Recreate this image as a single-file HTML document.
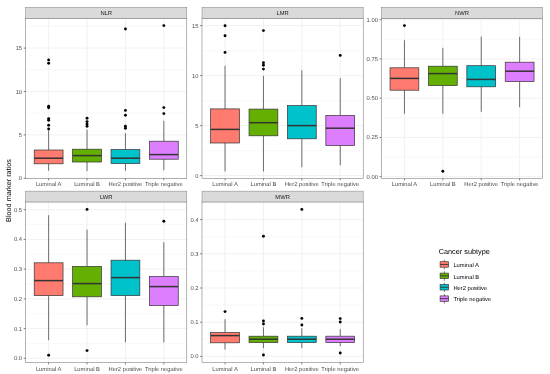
<!DOCTYPE html>
<html><head><meta charset="utf-8"><title>Blood marker ratios by cancer subtype</title>
<style>html,body{margin:0;padding:0;background:#fff}svg{display:block}</style></head>
<body>
<svg width="550" height="374" viewBox="0 0 550 374" font-family="Liberation Sans, sans-serif" text-rendering="geometricPrecision">
<rect width="550" height="374" fill="#fff"/>
<g>
<rect x="25.6" y="18.3" width="161.2" height="160.1" fill="#fff"/>
<line x1="25.6" x2="186.8" y1="156.60" y2="156.60" stroke="#ebebeb" stroke-width="0.35"/>
<line x1="25.6" x2="186.8" y1="113.20" y2="113.20" stroke="#ebebeb" stroke-width="0.35"/>
<line x1="25.6" x2="186.8" y1="69.80" y2="69.80" stroke="#ebebeb" stroke-width="0.35"/>
<line x1="25.6" x2="186.8" y1="26.40" y2="26.40" stroke="#ebebeb" stroke-width="0.35"/>
<line x1="25.6" x2="186.8" y1="178.30" y2="178.30" stroke="#ebebeb" stroke-width="0.7"/>
<line x1="25.6" x2="186.8" y1="134.90" y2="134.90" stroke="#ebebeb" stroke-width="0.7"/>
<line x1="25.6" x2="186.8" y1="91.50" y2="91.50" stroke="#ebebeb" stroke-width="0.7"/>
<line x1="25.6" x2="186.8" y1="48.10" y2="48.10" stroke="#ebebeb" stroke-width="0.7"/>
<line x1="48.64" x2="48.64" y1="18.3" y2="178.4" stroke="#ebebeb" stroke-width="0.7"/>
<line x1="87.04" x2="87.04" y1="18.3" y2="178.4" stroke="#ebebeb" stroke-width="0.7"/>
<line x1="125.44" x2="125.44" y1="18.3" y2="178.4" stroke="#ebebeb" stroke-width="0.7"/>
<line x1="163.84" x2="163.84" y1="18.3" y2="178.4" stroke="#ebebeb" stroke-width="0.7"/>
<circle cx="48.64" cy="59.9" r="1.45" fill="#000"/>
<circle cx="48.64" cy="63.2" r="1.45" fill="#000"/>
<circle cx="48.64" cy="106.2" r="1.45" fill="#000"/>
<circle cx="48.64" cy="107.8" r="1.45" fill="#000"/>
<circle cx="48.64" cy="118.6" r="1.45" fill="#000"/>
<circle cx="48.64" cy="120.2" r="1.45" fill="#000"/>
<circle cx="48.64" cy="125.2" r="1.45" fill="#000"/>
<circle cx="48.64" cy="128.9" r="1.45" fill="#000"/>
<line x1="48.64" x2="48.64" y1="130.1" y2="150.0" stroke="#333333" stroke-width="0.7"/>
<line x1="48.64" x2="48.64" y1="163.79999999999998" y2="170.79999999999998" stroke="#333333" stroke-width="0.7"/>
<rect x="34.24" y="150.0" width="28.8" height="13.80" fill="#FF7B6F" stroke="#333333" stroke-width="0.7"/>
<line x1="34.24" x2="63.04" y1="158.2" y2="158.2" stroke="#333333" stroke-width="1.5"/>
<circle cx="87.04" cy="118.3" r="1.45" fill="#000"/>
<circle cx="87.04" cy="121.6" r="1.45" fill="#000"/>
<circle cx="87.04" cy="123.9" r="1.45" fill="#000"/>
<circle cx="87.04" cy="126.3" r="1.45" fill="#000"/>
<line x1="87.04" x2="87.04" y1="129.6" y2="149.2" stroke="#333333" stroke-width="0.7"/>
<line x1="87.04" x2="87.04" y1="162.0" y2="171.2" stroke="#333333" stroke-width="0.7"/>
<rect x="72.64" y="149.2" width="28.8" height="12.80" fill="#64B002" stroke="#333333" stroke-width="0.7"/>
<line x1="72.64" x2="101.44" y1="155.6" y2="155.6" stroke="#333333" stroke-width="1.5"/>
<circle cx="125.44" cy="29" r="1.45" fill="#000"/>
<circle cx="125.44" cy="110.4" r="1.45" fill="#000"/>
<circle cx="125.44" cy="115.2" r="1.45" fill="#000"/>
<circle cx="125.44" cy="126.2" r="1.45" fill="#000"/>
<circle cx="125.44" cy="128.2" r="1.45" fill="#000"/>
<line x1="125.44" x2="125.44" y1="133.2" y2="149.6" stroke="#333333" stroke-width="0.7"/>
<line x1="125.44" x2="125.44" y1="163.6" y2="170.79999999999998" stroke="#333333" stroke-width="0.7"/>
<rect x="111.04" y="149.6" width="28.8" height="14.00" fill="#00C2CB" stroke="#333333" stroke-width="0.7"/>
<line x1="111.04" x2="139.84" y1="158.2" y2="158.2" stroke="#333333" stroke-width="1.5"/>
<circle cx="163.84" cy="25.6" r="1.45" fill="#000"/>
<circle cx="163.84" cy="107.6" r="1.45" fill="#000"/>
<circle cx="163.84" cy="113.6" r="1.45" fill="#000"/>
<line x1="163.84" x2="163.84" y1="120.8" y2="141.2" stroke="#333333" stroke-width="0.7"/>
<line x1="163.84" x2="163.84" y1="159.2" y2="170.2" stroke="#333333" stroke-width="0.7"/>
<rect x="149.44" y="141.2" width="28.8" height="18.00" fill="#DD7EFF" stroke="#333333" stroke-width="0.7"/>
<line x1="149.44" x2="178.24" y1="154.6" y2="154.6" stroke="#333333" stroke-width="1.5"/>
<rect x="25.6" y="18.3" width="161.2" height="160.1" fill="none" stroke="#686868" stroke-width="0.5"/>
<rect x="25.6" y="7.3" width="161.2" height="11.0" fill="#dadada" stroke="#808080" stroke-width="0.5"/>
<text x="106.2" y="14.9" font-size="5.8" fill="#1a1a1a" text-anchor="middle">NLR</text>
<line x1="23.7" x2="25.4" y1="178.30" y2="178.30" stroke="#333333" stroke-width="0.65"/>
<text x="22.1" y="180.35" font-size="5.8" fill="#4d4d4d" text-anchor="end">0</text>
<line x1="23.7" x2="25.4" y1="134.90" y2="134.90" stroke="#333333" stroke-width="0.65"/>
<text x="22.1" y="136.95" font-size="5.8" fill="#4d4d4d" text-anchor="end">5</text>
<line x1="23.7" x2="25.4" y1="91.50" y2="91.50" stroke="#333333" stroke-width="0.65"/>
<text x="22.1" y="93.55" font-size="5.8" fill="#4d4d4d" text-anchor="end">10</text>
<line x1="23.7" x2="25.4" y1="48.10" y2="48.10" stroke="#333333" stroke-width="0.65"/>
<text x="22.1" y="50.15" font-size="5.8" fill="#4d4d4d" text-anchor="end">15</text>
<line x1="48.64" x2="48.64" y1="178.6" y2="180.3" stroke="#333333" stroke-width="0.65"/>
<text x="48.64" y="186.4" font-size="5.8" fill="#4d4d4d" text-anchor="middle">Luminal A</text>
<line x1="87.04" x2="87.04" y1="178.6" y2="180.3" stroke="#333333" stroke-width="0.65"/>
<text x="87.04" y="186.4" font-size="5.8" fill="#4d4d4d" text-anchor="middle">Luminal B</text>
<line x1="125.44" x2="125.44" y1="178.6" y2="180.3" stroke="#333333" stroke-width="0.65"/>
<text x="125.44" y="186.4" font-size="5.8" fill="#4d4d4d" text-anchor="middle">Her2 positive</text>
<line x1="163.84" x2="163.84" y1="178.6" y2="180.3" stroke="#333333" stroke-width="0.65"/>
<text x="163.84" y="186.4" font-size="5.8" fill="#4d4d4d" text-anchor="middle">Triple negative</text>
</g>
<g>
<rect x="202.0" y="18.3" width="161.2" height="160.1" fill="#fff"/>
<line x1="202.0" x2="363.2" y1="150.60" y2="150.60" stroke="#ebebeb" stroke-width="0.35"/>
<line x1="202.0" x2="363.2" y1="100.60" y2="100.60" stroke="#ebebeb" stroke-width="0.35"/>
<line x1="202.0" x2="363.2" y1="50.60" y2="50.60" stroke="#ebebeb" stroke-width="0.35"/>
<line x1="202.0" x2="363.2" y1="175.60" y2="175.60" stroke="#ebebeb" stroke-width="0.7"/>
<line x1="202.0" x2="363.2" y1="125.60" y2="125.60" stroke="#ebebeb" stroke-width="0.7"/>
<line x1="202.0" x2="363.2" y1="75.60" y2="75.60" stroke="#ebebeb" stroke-width="0.7"/>
<line x1="202.0" x2="363.2" y1="25.60" y2="25.60" stroke="#ebebeb" stroke-width="0.7"/>
<line x1="225.04" x2="225.04" y1="18.3" y2="178.4" stroke="#ebebeb" stroke-width="0.7"/>
<line x1="263.44" x2="263.44" y1="18.3" y2="178.4" stroke="#ebebeb" stroke-width="0.7"/>
<line x1="301.84" x2="301.84" y1="18.3" y2="178.4" stroke="#ebebeb" stroke-width="0.7"/>
<line x1="340.24" x2="340.24" y1="18.3" y2="178.4" stroke="#ebebeb" stroke-width="0.7"/>
<circle cx="225.04" cy="25.7" r="1.45" fill="#000"/>
<circle cx="225.04" cy="35.8" r="1.45" fill="#000"/>
<circle cx="225.04" cy="52.4" r="1.45" fill="#000"/>
<line x1="225.04" x2="225.04" y1="65.8" y2="108.9" stroke="#333333" stroke-width="0.7"/>
<line x1="225.04" x2="225.04" y1="143.0" y2="171.39999999999998" stroke="#333333" stroke-width="0.7"/>
<rect x="210.64" y="108.9" width="28.8" height="34.10" fill="#FF7B6F" stroke="#333333" stroke-width="0.7"/>
<line x1="210.64" x2="239.44" y1="129.39999999999998" y2="129.39999999999998" stroke="#333333" stroke-width="1.5"/>
<circle cx="263.44" cy="30.6" r="1.45" fill="#000"/>
<circle cx="263.44" cy="62.8" r="1.45" fill="#000"/>
<circle cx="263.44" cy="65.2" r="1.45" fill="#000"/>
<circle cx="263.44" cy="69.1" r="1.45" fill="#000"/>
<line x1="263.44" x2="263.44" y1="75.8" y2="109.10000000000001" stroke="#333333" stroke-width="0.7"/>
<line x1="263.44" x2="263.44" y1="135.79999999999998" y2="171.39999999999998" stroke="#333333" stroke-width="0.7"/>
<rect x="249.04" y="109.10000000000001" width="28.8" height="26.70" fill="#64B002" stroke="#333333" stroke-width="0.7"/>
<line x1="249.04" x2="277.84" y1="122.7" y2="122.7" stroke="#333333" stroke-width="1.5"/>
<line x1="301.84" x2="301.84" y1="70.2" y2="105.60000000000001" stroke="#333333" stroke-width="0.7"/>
<line x1="301.84" x2="301.84" y1="138.79999999999998" y2="167.2" stroke="#333333" stroke-width="0.7"/>
<rect x="287.44" y="105.60000000000001" width="28.8" height="33.20" fill="#00C2CB" stroke="#333333" stroke-width="0.7"/>
<line x1="287.44" x2="316.24" y1="125.60000000000001" y2="125.60000000000001" stroke="#333333" stroke-width="1.5"/>
<circle cx="340.24" cy="55.4" r="1.45" fill="#000"/>
<line x1="340.24" x2="340.24" y1="78.2" y2="115.4" stroke="#333333" stroke-width="0.7"/>
<line x1="340.24" x2="340.24" y1="145.6" y2="165.2" stroke="#333333" stroke-width="0.7"/>
<rect x="325.84" y="115.4" width="28.8" height="30.20" fill="#DD7EFF" stroke="#333333" stroke-width="0.7"/>
<line x1="325.84" x2="354.64" y1="128.2" y2="128.2" stroke="#333333" stroke-width="1.5"/>
<rect x="202.0" y="18.3" width="161.2" height="160.1" fill="none" stroke="#686868" stroke-width="0.5"/>
<rect x="202.0" y="7.3" width="161.2" height="11.0" fill="#dadada" stroke="#808080" stroke-width="0.5"/>
<text x="282.6" y="14.9" font-size="5.8" fill="#1a1a1a" text-anchor="middle">LMR</text>
<line x1="200.1" x2="201.8" y1="175.60" y2="175.60" stroke="#333333" stroke-width="0.65"/>
<text x="198.5" y="177.65" font-size="5.8" fill="#4d4d4d" text-anchor="end">0</text>
<line x1="200.1" x2="201.8" y1="125.60" y2="125.60" stroke="#333333" stroke-width="0.65"/>
<text x="198.5" y="127.65" font-size="5.8" fill="#4d4d4d" text-anchor="end">5</text>
<line x1="200.1" x2="201.8" y1="75.60" y2="75.60" stroke="#333333" stroke-width="0.65"/>
<text x="198.5" y="77.65" font-size="5.8" fill="#4d4d4d" text-anchor="end">10</text>
<line x1="200.1" x2="201.8" y1="25.60" y2="25.60" stroke="#333333" stroke-width="0.65"/>
<text x="198.5" y="27.65" font-size="5.8" fill="#4d4d4d" text-anchor="end">15</text>
<line x1="225.04" x2="225.04" y1="178.6" y2="180.3" stroke="#333333" stroke-width="0.65"/>
<text x="225.04" y="186.4" font-size="5.8" fill="#4d4d4d" text-anchor="middle">Luminal A</text>
<line x1="263.44" x2="263.44" y1="178.6" y2="180.3" stroke="#333333" stroke-width="0.65"/>
<text x="263.44" y="186.4" font-size="5.8" fill="#4d4d4d" text-anchor="middle">Luminal B</text>
<line x1="301.84" x2="301.84" y1="178.6" y2="180.3" stroke="#333333" stroke-width="0.65"/>
<text x="301.84" y="186.4" font-size="5.8" fill="#4d4d4d" text-anchor="middle">Her2 positive</text>
<line x1="340.24" x2="340.24" y1="178.6" y2="180.3" stroke="#333333" stroke-width="0.65"/>
<text x="340.24" y="186.4" font-size="5.8" fill="#4d4d4d" text-anchor="middle">Triple negative</text>
</g>
<g>
<rect x="381.4" y="18.3" width="161.2" height="160.1" fill="#fff"/>
<line x1="381.4" x2="542.6" y1="157.04" y2="157.04" stroke="#ebebeb" stroke-width="0.35"/>
<line x1="381.4" x2="542.6" y1="117.81" y2="117.81" stroke="#ebebeb" stroke-width="0.35"/>
<line x1="381.4" x2="542.6" y1="78.59" y2="78.59" stroke="#ebebeb" stroke-width="0.35"/>
<line x1="381.4" x2="542.6" y1="39.36" y2="39.36" stroke="#ebebeb" stroke-width="0.35"/>
<line x1="381.4" x2="542.6" y1="176.65" y2="176.65" stroke="#ebebeb" stroke-width="0.7"/>
<line x1="381.4" x2="542.6" y1="137.43" y2="137.43" stroke="#ebebeb" stroke-width="0.7"/>
<line x1="381.4" x2="542.6" y1="98.20" y2="98.20" stroke="#ebebeb" stroke-width="0.7"/>
<line x1="381.4" x2="542.6" y1="58.97" y2="58.97" stroke="#ebebeb" stroke-width="0.7"/>
<line x1="381.4" x2="542.6" y1="19.75" y2="19.75" stroke="#ebebeb" stroke-width="0.7"/>
<line x1="404.44" x2="404.44" y1="18.3" y2="178.4" stroke="#ebebeb" stroke-width="0.7"/>
<line x1="442.84" x2="442.84" y1="18.3" y2="178.4" stroke="#ebebeb" stroke-width="0.7"/>
<line x1="481.24" x2="481.24" y1="18.3" y2="178.4" stroke="#ebebeb" stroke-width="0.7"/>
<line x1="519.64" x2="519.64" y1="18.3" y2="178.4" stroke="#ebebeb" stroke-width="0.7"/>
<circle cx="404.44" cy="25.6" r="1.45" fill="#000"/>
<line x1="404.44" x2="404.44" y1="40.2" y2="67.8" stroke="#333333" stroke-width="0.7"/>
<line x1="404.44" x2="404.44" y1="90.2" y2="113.8" stroke="#333333" stroke-width="0.7"/>
<rect x="390.04" y="67.8" width="28.8" height="22.40" fill="#FF7B6F" stroke="#333333" stroke-width="0.7"/>
<line x1="390.04" x2="418.84" y1="78.4" y2="78.4" stroke="#333333" stroke-width="1.5"/>
<circle cx="442.84" cy="171.2" r="1.45" fill="#000"/>
<line x1="442.84" x2="442.84" y1="47.800000000000004" y2="66.2" stroke="#333333" stroke-width="0.7"/>
<line x1="442.84" x2="442.84" y1="85.60000000000001" y2="113.8" stroke="#333333" stroke-width="0.7"/>
<rect x="428.44" y="66.2" width="28.8" height="19.40" fill="#64B002" stroke="#333333" stroke-width="0.7"/>
<line x1="428.44" x2="457.24" y1="73.60000000000001" y2="73.60000000000001" stroke="#333333" stroke-width="1.5"/>
<line x1="481.24" x2="481.24" y1="36.6" y2="65.7" stroke="#333333" stroke-width="0.7"/>
<line x1="481.24" x2="481.24" y1="86.8" y2="111.8" stroke="#333333" stroke-width="0.7"/>
<rect x="466.84" y="65.7" width="28.8" height="21.10" fill="#00C2CB" stroke="#333333" stroke-width="0.7"/>
<line x1="466.84" x2="495.64" y1="79.4" y2="79.4" stroke="#333333" stroke-width="1.5"/>
<line x1="519.64" x2="519.64" y1="36.800000000000004" y2="62.2" stroke="#333333" stroke-width="0.7"/>
<line x1="519.64" x2="519.64" y1="81.60000000000001" y2="107.2" stroke="#333333" stroke-width="0.7"/>
<rect x="505.24" y="62.2" width="28.8" height="19.40" fill="#DD7EFF" stroke="#333333" stroke-width="0.7"/>
<line x1="505.24" x2="534.04" y1="71.2" y2="71.2" stroke="#333333" stroke-width="1.5"/>
<rect x="381.4" y="18.3" width="161.2" height="160.1" fill="none" stroke="#686868" stroke-width="0.5"/>
<rect x="381.4" y="7.3" width="161.2" height="11.0" fill="#dadada" stroke="#808080" stroke-width="0.5"/>
<text x="462.0" y="14.9" font-size="5.8" fill="#1a1a1a" text-anchor="middle">NWR</text>
<line x1="379.5" x2="381.2" y1="176.65" y2="176.65" stroke="#333333" stroke-width="0.65"/>
<text x="377.9" y="178.70" font-size="5.8" fill="#4d4d4d" text-anchor="end">0.00</text>
<line x1="379.5" x2="381.2" y1="137.43" y2="137.43" stroke="#333333" stroke-width="0.65"/>
<text x="377.9" y="139.48" font-size="5.8" fill="#4d4d4d" text-anchor="end">0.25</text>
<line x1="379.5" x2="381.2" y1="98.20" y2="98.20" stroke="#333333" stroke-width="0.65"/>
<text x="377.9" y="100.25" font-size="5.8" fill="#4d4d4d" text-anchor="end">0.50</text>
<line x1="379.5" x2="381.2" y1="58.97" y2="58.97" stroke="#333333" stroke-width="0.65"/>
<text x="377.9" y="61.02" font-size="5.8" fill="#4d4d4d" text-anchor="end">0.75</text>
<line x1="379.5" x2="381.2" y1="19.75" y2="19.75" stroke="#333333" stroke-width="0.65"/>
<text x="377.9" y="21.80" font-size="5.8" fill="#4d4d4d" text-anchor="end">1.00</text>
<line x1="404.44" x2="404.44" y1="178.6" y2="180.3" stroke="#333333" stroke-width="0.65"/>
<text x="404.44" y="186.4" font-size="5.8" fill="#4d4d4d" text-anchor="middle">Luminal A</text>
<line x1="442.84" x2="442.84" y1="178.6" y2="180.3" stroke="#333333" stroke-width="0.65"/>
<text x="442.84" y="186.4" font-size="5.8" fill="#4d4d4d" text-anchor="middle">Luminal B</text>
<line x1="481.24" x2="481.24" y1="178.6" y2="180.3" stroke="#333333" stroke-width="0.65"/>
<text x="481.24" y="186.4" font-size="5.8" fill="#4d4d4d" text-anchor="middle">Her2 positive</text>
<line x1="519.64" x2="519.64" y1="178.6" y2="180.3" stroke="#333333" stroke-width="0.65"/>
<text x="519.64" y="186.4" font-size="5.8" fill="#4d4d4d" text-anchor="middle">Triple negative</text>
</g>
<g>
<rect x="25.6" y="201.95" width="161.2" height="160.6" fill="#fff"/>
<line x1="25.6" x2="186.8" y1="343.44" y2="343.44" stroke="#ebebeb" stroke-width="0.35"/>
<line x1="25.6" x2="186.8" y1="313.72" y2="313.72" stroke="#ebebeb" stroke-width="0.35"/>
<line x1="25.6" x2="186.8" y1="284.00" y2="284.00" stroke="#ebebeb" stroke-width="0.35"/>
<line x1="25.6" x2="186.8" y1="254.28" y2="254.28" stroke="#ebebeb" stroke-width="0.35"/>
<line x1="25.6" x2="186.8" y1="224.56" y2="224.56" stroke="#ebebeb" stroke-width="0.35"/>
<line x1="25.6" x2="186.8" y1="358.30" y2="358.30" stroke="#ebebeb" stroke-width="0.7"/>
<line x1="25.6" x2="186.8" y1="328.58" y2="328.58" stroke="#ebebeb" stroke-width="0.7"/>
<line x1="25.6" x2="186.8" y1="298.86" y2="298.86" stroke="#ebebeb" stroke-width="0.7"/>
<line x1="25.6" x2="186.8" y1="269.14" y2="269.14" stroke="#ebebeb" stroke-width="0.7"/>
<line x1="25.6" x2="186.8" y1="239.42" y2="239.42" stroke="#ebebeb" stroke-width="0.7"/>
<line x1="25.6" x2="186.8" y1="209.70" y2="209.70" stroke="#ebebeb" stroke-width="0.7"/>
<line x1="48.64" x2="48.64" y1="201.95" y2="362.5" stroke="#ebebeb" stroke-width="0.7"/>
<line x1="87.04" x2="87.04" y1="201.95" y2="362.5" stroke="#ebebeb" stroke-width="0.7"/>
<line x1="125.44" x2="125.44" y1="201.95" y2="362.5" stroke="#ebebeb" stroke-width="0.7"/>
<line x1="163.84" x2="163.84" y1="201.95" y2="362.5" stroke="#ebebeb" stroke-width="0.7"/>
<circle cx="48.64" cy="355.3" r="1.45" fill="#000"/>
<line x1="48.64" x2="48.64" y1="215.2" y2="262.8" stroke="#333333" stroke-width="0.7"/>
<line x1="48.64" x2="48.64" y1="295.59999999999997" y2="340.2" stroke="#333333" stroke-width="0.7"/>
<rect x="34.24" y="262.8" width="28.8" height="32.80" fill="#FF7B6F" stroke="#333333" stroke-width="0.7"/>
<line x1="34.24" x2="63.04" y1="280.59999999999997" y2="280.59999999999997" stroke="#333333" stroke-width="1.5"/>
<circle cx="87.04" cy="209.4" r="1.45" fill="#000"/>
<circle cx="87.04" cy="350.6" r="1.45" fill="#000"/>
<line x1="87.04" x2="87.04" y1="229.6" y2="266.4" stroke="#333333" stroke-width="0.7"/>
<line x1="87.04" x2="87.04" y1="296.8" y2="325.2" stroke="#333333" stroke-width="0.7"/>
<rect x="72.64" y="266.4" width="28.8" height="30.40" fill="#64B002" stroke="#333333" stroke-width="0.7"/>
<line x1="72.64" x2="101.44" y1="283.59999999999997" y2="283.59999999999997" stroke="#333333" stroke-width="1.5"/>
<line x1="125.44" x2="125.44" y1="222.79999999999998" y2="260.2" stroke="#333333" stroke-width="0.7"/>
<line x1="125.44" x2="125.44" y1="295.59999999999997" y2="342.2" stroke="#333333" stroke-width="0.7"/>
<rect x="111.04" y="260.2" width="28.8" height="35.40" fill="#00C2CB" stroke="#333333" stroke-width="0.7"/>
<line x1="111.04" x2="139.84" y1="277.59999999999997" y2="277.59999999999997" stroke="#333333" stroke-width="1.5"/>
<circle cx="163.84" cy="221.2" r="1.45" fill="#000"/>
<line x1="163.84" x2="163.84" y1="242.2" y2="276.59999999999997" stroke="#333333" stroke-width="0.7"/>
<line x1="163.84" x2="163.84" y1="305.59999999999997" y2="342.4" stroke="#333333" stroke-width="0.7"/>
<rect x="149.44" y="276.59999999999997" width="28.8" height="29.00" fill="#DD7EFF" stroke="#333333" stroke-width="0.7"/>
<line x1="149.44" x2="178.24" y1="286.59999999999997" y2="286.59999999999997" stroke="#333333" stroke-width="1.5"/>
<rect x="25.6" y="201.95" width="161.2" height="160.6" fill="none" stroke="#686868" stroke-width="0.5"/>
<rect x="25.6" y="191.15" width="161.2" height="10.8" fill="#dadada" stroke="#808080" stroke-width="0.5"/>
<text x="106.2" y="198.7" font-size="5.8" fill="#1a1a1a" text-anchor="middle">LWR</text>
<line x1="23.7" x2="25.4" y1="358.30" y2="358.30" stroke="#333333" stroke-width="0.65"/>
<text x="22.1" y="360.35" font-size="5.8" fill="#4d4d4d" text-anchor="end">0.0</text>
<line x1="23.7" x2="25.4" y1="328.58" y2="328.58" stroke="#333333" stroke-width="0.65"/>
<text x="22.1" y="330.63" font-size="5.8" fill="#4d4d4d" text-anchor="end">0.1</text>
<line x1="23.7" x2="25.4" y1="298.86" y2="298.86" stroke="#333333" stroke-width="0.65"/>
<text x="22.1" y="300.91" font-size="5.8" fill="#4d4d4d" text-anchor="end">0.2</text>
<line x1="23.7" x2="25.4" y1="269.14" y2="269.14" stroke="#333333" stroke-width="0.65"/>
<text x="22.1" y="271.19" font-size="5.8" fill="#4d4d4d" text-anchor="end">0.3</text>
<line x1="23.7" x2="25.4" y1="239.42" y2="239.42" stroke="#333333" stroke-width="0.65"/>
<text x="22.1" y="241.47" font-size="5.8" fill="#4d4d4d" text-anchor="end">0.4</text>
<line x1="23.7" x2="25.4" y1="209.70" y2="209.70" stroke="#333333" stroke-width="0.65"/>
<text x="22.1" y="211.75" font-size="5.8" fill="#4d4d4d" text-anchor="end">0.5</text>
<line x1="48.64" x2="48.64" y1="362.7" y2="364.4" stroke="#333333" stroke-width="0.65"/>
<text x="48.64" y="370.5" font-size="5.8" fill="#4d4d4d" text-anchor="middle">Luminal A</text>
<line x1="87.04" x2="87.04" y1="362.7" y2="364.4" stroke="#333333" stroke-width="0.65"/>
<text x="87.04" y="370.5" font-size="5.8" fill="#4d4d4d" text-anchor="middle">Luminal B</text>
<line x1="125.44" x2="125.44" y1="362.7" y2="364.4" stroke="#333333" stroke-width="0.65"/>
<text x="125.44" y="370.5" font-size="5.8" fill="#4d4d4d" text-anchor="middle">Her2 positive</text>
<line x1="163.84" x2="163.84" y1="362.7" y2="364.4" stroke="#333333" stroke-width="0.65"/>
<text x="163.84" y="370.5" font-size="5.8" fill="#4d4d4d" text-anchor="middle">Triple negative</text>
</g>
<g>
<rect x="202.0" y="201.95" width="161.2" height="160.6" fill="#fff"/>
<line x1="202.0" x2="363.2" y1="339.30" y2="339.30" stroke="#ebebeb" stroke-width="0.35"/>
<line x1="202.0" x2="363.2" y1="305.10" y2="305.10" stroke="#ebebeb" stroke-width="0.35"/>
<line x1="202.0" x2="363.2" y1="270.90" y2="270.90" stroke="#ebebeb" stroke-width="0.35"/>
<line x1="202.0" x2="363.2" y1="236.70" y2="236.70" stroke="#ebebeb" stroke-width="0.35"/>
<line x1="202.0" x2="363.2" y1="356.40" y2="356.40" stroke="#ebebeb" stroke-width="0.7"/>
<line x1="202.0" x2="363.2" y1="322.20" y2="322.20" stroke="#ebebeb" stroke-width="0.7"/>
<line x1="202.0" x2="363.2" y1="288.00" y2="288.00" stroke="#ebebeb" stroke-width="0.7"/>
<line x1="202.0" x2="363.2" y1="253.80" y2="253.80" stroke="#ebebeb" stroke-width="0.7"/>
<line x1="202.0" x2="363.2" y1="219.60" y2="219.60" stroke="#ebebeb" stroke-width="0.7"/>
<line x1="225.04" x2="225.04" y1="201.95" y2="362.5" stroke="#ebebeb" stroke-width="0.7"/>
<line x1="263.44" x2="263.44" y1="201.95" y2="362.5" stroke="#ebebeb" stroke-width="0.7"/>
<line x1="301.84" x2="301.84" y1="201.95" y2="362.5" stroke="#ebebeb" stroke-width="0.7"/>
<line x1="340.24" x2="340.24" y1="201.95" y2="362.5" stroke="#ebebeb" stroke-width="0.7"/>
<circle cx="225.04" cy="311.6" r="1.45" fill="#000"/>
<line x1="225.04" x2="225.04" y1="319.2" y2="332.59999999999997" stroke="#333333" stroke-width="0.7"/>
<line x1="225.04" x2="225.04" y1="342.8" y2="349.59999999999997" stroke="#333333" stroke-width="0.7"/>
<rect x="210.64" y="332.59999999999997" width="28.8" height="10.20" fill="#FF7B6F" stroke="#333333" stroke-width="0.7"/>
<line x1="210.64" x2="239.44" y1="335.59999999999997" y2="335.59999999999997" stroke="#333333" stroke-width="1.5"/>
<circle cx="263.44" cy="236.2" r="1.45" fill="#000"/>
<circle cx="263.44" cy="321" r="1.45" fill="#000"/>
<circle cx="263.44" cy="324" r="1.45" fill="#000"/>
<circle cx="263.44" cy="355" r="1.45" fill="#000"/>
<line x1="263.44" x2="263.44" y1="327.2" y2="336.2" stroke="#333333" stroke-width="0.7"/>
<line x1="263.44" x2="263.44" y1="342.59999999999997" y2="348.2" stroke="#333333" stroke-width="0.7"/>
<rect x="249.04" y="336.2" width="28.8" height="6.40" fill="#64B002" stroke="#333333" stroke-width="0.7"/>
<line x1="249.04" x2="277.84" y1="339.2" y2="339.2" stroke="#333333" stroke-width="1.5"/>
<circle cx="301.84" cy="209.4" r="1.45" fill="#000"/>
<circle cx="301.84" cy="318.4" r="1.45" fill="#000"/>
<circle cx="301.84" cy="325" r="1.45" fill="#000"/>
<line x1="301.84" x2="301.84" y1="328.2" y2="336.2" stroke="#333333" stroke-width="0.7"/>
<line x1="301.84" x2="301.84" y1="342.59999999999997" y2="348.2" stroke="#333333" stroke-width="0.7"/>
<rect x="287.44" y="336.2" width="28.8" height="6.40" fill="#00C2CB" stroke="#333333" stroke-width="0.7"/>
<line x1="287.44" x2="316.24" y1="339.2" y2="339.2" stroke="#333333" stroke-width="1.5"/>
<circle cx="340.24" cy="318.6" r="1.45" fill="#000"/>
<circle cx="340.24" cy="322" r="1.45" fill="#000"/>
<circle cx="340.24" cy="353" r="1.45" fill="#000"/>
<line x1="340.24" x2="340.24" y1="329.2" y2="336.2" stroke="#333333" stroke-width="0.7"/>
<line x1="340.24" x2="340.24" y1="342.59999999999997" y2="346.2" stroke="#333333" stroke-width="0.7"/>
<rect x="325.84" y="336.2" width="28.8" height="6.40" fill="#DD7EFF" stroke="#333333" stroke-width="0.7"/>
<line x1="325.84" x2="354.64" y1="339.2" y2="339.2" stroke="#333333" stroke-width="1.5"/>
<rect x="202.0" y="201.95" width="161.2" height="160.6" fill="none" stroke="#686868" stroke-width="0.5"/>
<rect x="202.0" y="191.15" width="161.2" height="10.8" fill="#dadada" stroke="#808080" stroke-width="0.5"/>
<text x="282.6" y="198.7" font-size="5.8" fill="#1a1a1a" text-anchor="middle">MWR</text>
<line x1="200.1" x2="201.8" y1="356.40" y2="356.40" stroke="#333333" stroke-width="0.65"/>
<text x="198.5" y="358.45" font-size="5.8" fill="#4d4d4d" text-anchor="end">0.0</text>
<line x1="200.1" x2="201.8" y1="322.20" y2="322.20" stroke="#333333" stroke-width="0.65"/>
<text x="198.5" y="324.25" font-size="5.8" fill="#4d4d4d" text-anchor="end">0.1</text>
<line x1="200.1" x2="201.8" y1="288.00" y2="288.00" stroke="#333333" stroke-width="0.65"/>
<text x="198.5" y="290.05" font-size="5.8" fill="#4d4d4d" text-anchor="end">0.2</text>
<line x1="200.1" x2="201.8" y1="253.80" y2="253.80" stroke="#333333" stroke-width="0.65"/>
<text x="198.5" y="255.85" font-size="5.8" fill="#4d4d4d" text-anchor="end">0.3</text>
<line x1="200.1" x2="201.8" y1="219.60" y2="219.60" stroke="#333333" stroke-width="0.65"/>
<text x="198.5" y="221.65" font-size="5.8" fill="#4d4d4d" text-anchor="end">0.4</text>
<line x1="225.04" x2="225.04" y1="362.7" y2="364.4" stroke="#333333" stroke-width="0.65"/>
<text x="225.04" y="370.5" font-size="5.8" fill="#4d4d4d" text-anchor="middle">Luminal A</text>
<line x1="263.44" x2="263.44" y1="362.7" y2="364.4" stroke="#333333" stroke-width="0.65"/>
<text x="263.44" y="370.5" font-size="5.8" fill="#4d4d4d" text-anchor="middle">Luminal B</text>
<line x1="301.84" x2="301.84" y1="362.7" y2="364.4" stroke="#333333" stroke-width="0.65"/>
<text x="301.84" y="370.5" font-size="5.8" fill="#4d4d4d" text-anchor="middle">Her2 positive</text>
<line x1="340.24" x2="340.24" y1="362.7" y2="364.4" stroke="#333333" stroke-width="0.65"/>
<text x="340.24" y="370.5" font-size="5.8" fill="#4d4d4d" text-anchor="middle">Triple negative</text>
</g>
<text transform="translate(11,190.5) rotate(-90)" font-size="7.25" fill="#000" text-anchor="middle">Blood marker ratios</text>
<text x="438.7" y="254.45" font-size="7.3" fill="#000">Cancer subtype</text>
<line x1="444.35" x2="444.35" y1="259.85" y2="269.35" stroke="#333333" stroke-width="0.65"/>
<rect x="440.1" y="261.70" width="8.50" height="5.5" fill="#FF7B6F" stroke="#333333" stroke-width="0.65"/>
<line x1="440.1" x2="448.6" y1="264.45" y2="264.45" stroke="#333333" stroke-width="0.9"/>
<text x="453.4" y="267.15" font-size="5.8" fill="#000">Luminal A</text>
<line x1="444.35" x2="444.35" y1="271.25" y2="280.75" stroke="#333333" stroke-width="0.65"/>
<rect x="440.1" y="273.10" width="8.50" height="5.5" fill="#64B002" stroke="#333333" stroke-width="0.65"/>
<line x1="440.1" x2="448.6" y1="275.85" y2="275.85" stroke="#333333" stroke-width="0.9"/>
<text x="453.4" y="278.55" font-size="5.8" fill="#000">Luminal B</text>
<line x1="444.35" x2="444.35" y1="282.65" y2="292.15" stroke="#333333" stroke-width="0.65"/>
<rect x="440.1" y="284.50" width="8.50" height="5.5" fill="#00C2CB" stroke="#333333" stroke-width="0.65"/>
<line x1="440.1" x2="448.6" y1="287.25" y2="287.25" stroke="#333333" stroke-width="0.9"/>
<text x="453.4" y="289.95" font-size="5.8" fill="#000">Her2 positive</text>
<line x1="444.35" x2="444.35" y1="294.05" y2="303.55" stroke="#333333" stroke-width="0.65"/>
<rect x="440.1" y="295.90" width="8.50" height="5.5" fill="#DD7EFF" stroke="#333333" stroke-width="0.65"/>
<line x1="440.1" x2="448.6" y1="298.65" y2="298.65" stroke="#333333" stroke-width="0.9"/>
<text x="453.4" y="301.35" font-size="5.8" fill="#000">Triple negative</text>
</svg>
</body></html>
